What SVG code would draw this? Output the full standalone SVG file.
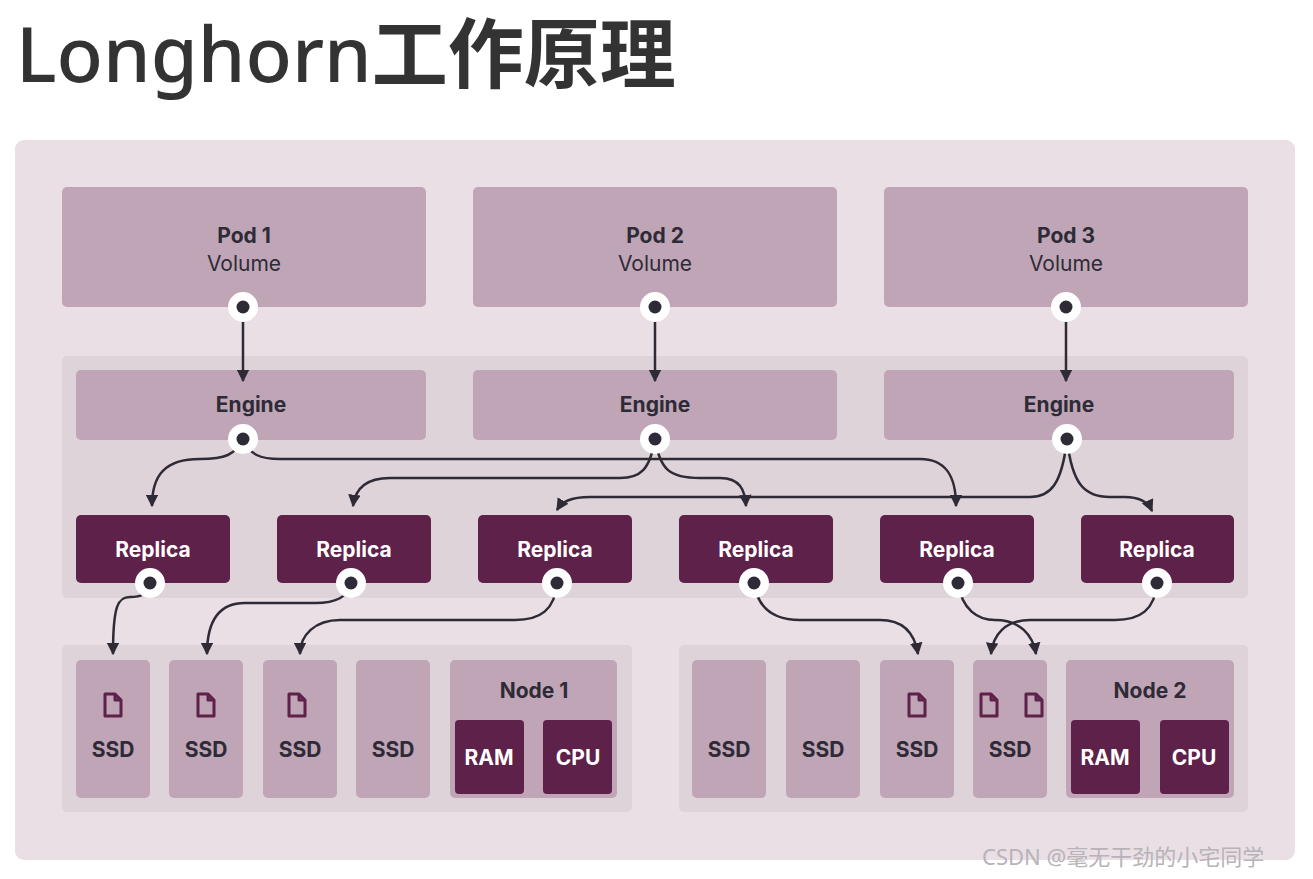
<svg xmlns="http://www.w3.org/2000/svg" width="1313" height="879" viewBox="0 0 1313 879">
<style>
.pod{fill:#bfa5b6}
.band{fill:#dfd3da}
.rep{fill:#5e2149}
.t{font-family:Inter,"Noto Sans",sans-serif;font-weight:700;font-size:21px;fill:#2e2b36;text-anchor:middle}
.tw{font-family:Inter,"Noto Sans",sans-serif;font-weight:700;font-size:21px;fill:#fff;text-anchor:middle}
.tl{font-family:Inter,"Noto Sans",sans-serif;font-weight:400;font-size:21px;fill:#2e2b36;text-anchor:middle}
.c{fill:none;stroke:#2e2b36;stroke-width:2.5}
.file{fill:none;stroke:#5e2149;stroke-width:3;stroke-linejoin:round}
</style>
<defs>
<marker id="ah" viewBox="0 0 10 10" refX="9" refY="5" markerWidth="5" markerHeight="5" orient="auto"><path d="M0,0L10,5L0,10z" fill="#2e2b36"/></marker>
<g id="sock"><circle r="15" fill="#fff"/><circle r="6.5" fill="#2e2b36"/></g>
<path id="doc" class="file" d="M-8,-11H2L8,-5V11H-8Z M2,-11V-5H8"/>
</defs>
<rect width="1313" height="879" fill="#fff"/>
<text x="16" y="82" font-family="'Noto Sans','Noto Sans CJK SC',sans-serif" font-size="76" font-weight="500" fill="#333">Longhorn<tspan font-weight="700">工作原理</tspan></text>
<rect x="15" y="140" width="1280" height="720" rx="9" fill="#e9dfe5"/>
<rect class="band" x="62" y="356" width="1186" height="242" rx="5"/>
<rect class="band" x="62" y="645" width="570" height="167" rx="5"/>
<rect class="band" x="679" y="645" width="569" height="167" rx="5"/>
<g id="pod1"><rect class="pod" x="62" y="187" width="364" height="120" rx="5"/><text class="t" x="244" y="243">Pod 1</text><text class="tl" x="244" y="271">Volume</text></g>
<g id="pod2"><rect class="pod" x="473" y="187" width="364" height="120" rx="5"/><text class="t" x="655" y="243">Pod 2</text><text class="tl" x="655" y="271">Volume</text></g>
<g id="pod3"><rect class="pod" x="884" y="187" width="364" height="120" rx="5"/><text class="t" x="1066" y="243">Pod 3</text><text class="tl" x="1066" y="271">Volume</text></g>
<g id="engine1"><rect class="pod" x="76" y="370" width="350" height="70" rx="5"/><text class="t" x="251" y="412">Engine</text></g>
<g id="engine2"><rect class="pod" x="473" y="370" width="364" height="70" rx="5"/><text class="t" x="655" y="412">Engine</text></g>
<g id="engine3"><rect class="pod" x="884" y="370" width="350" height="70" rx="5"/><text class="t" x="1059" y="412">Engine</text></g>
<g id="replica1"><rect class="rep" x="76" y="515" width="154" height="68" rx="5"/><text class="tw" x="153" y="557">Replica</text></g>
<g id="replica2"><rect class="rep" x="277" y="515" width="154" height="68" rx="5"/><text class="tw" x="354" y="557">Replica</text></g>
<g id="replica3"><rect class="rep" x="478" y="515" width="154" height="68" rx="5"/><text class="tw" x="555" y="557">Replica</text></g>
<g id="replica4"><rect class="rep" x="679" y="515" width="154" height="68" rx="5"/><text class="tw" x="756" y="557">Replica</text></g>
<g id="replica5"><rect class="rep" x="880" y="515" width="154" height="68" rx="5"/><text class="tw" x="957" y="557">Replica</text></g>
<g id="replica6"><rect class="rep" x="1081" y="515" width="153" height="68" rx="5"/><text class="tw" x="1157" y="557">Replica</text></g>
<g id="ssd1"><rect class="pod" x="76" y="660" width="74" height="138" rx="5"/><use href="#doc" x="113" y="705"/><text class="t" x="113" y="757">SSD</text></g>
<g id="ssd2"><rect class="pod" x="169" y="660" width="74" height="138" rx="5"/><use href="#doc" x="206" y="705"/><text class="t" x="206" y="757">SSD</text></g>
<g id="ssd3"><rect class="pod" x="263" y="660" width="74" height="138" rx="5"/><use href="#doc" x="297" y="705"/><text class="t" x="300" y="757">SSD</text></g>
<g id="ssd4"><rect class="pod" x="356" y="660" width="74" height="138" rx="5"/><text class="t" x="393" y="757">SSD</text></g>
<g id="node1"><rect class="pod" x="450" y="660" width="167" height="138" rx="5"/><text class="t" x="534" y="698">Node 1</text>
<rect class="rep" x="455" y="720" width="69" height="74" rx="4"/><text class="tw" x="489" y="765">RAM</text>
<rect class="rep" x="543" y="720" width="69" height="74" rx="4"/><text class="tw" x="578" y="765">CPU</text></g>
<g id="ssd5"><rect class="pod" x="692" y="660" width="74" height="138" rx="5"/><text class="t" x="729" y="757">SSD</text></g>
<g id="ssd6"><rect class="pod" x="786" y="660" width="74" height="138" rx="5"/><text class="t" x="823" y="757">SSD</text></g>
<g id="ssd7"><rect class="pod" x="880" y="660" width="74" height="138" rx="5"/><use href="#doc" x="917" y="705"/><text class="t" x="917" y="757">SSD</text></g>
<g id="ssd8"><rect class="pod" x="973" y="660" width="74" height="138" rx="5"/><use href="#doc" x="989" y="705"/><use href="#doc" x="1034" y="705"/><text class="t" x="1010" y="757">SSD</text></g>
<g id="node2"><rect class="pod" x="1066" y="660" width="168" height="138" rx="5"/><text class="t" x="1150" y="698">Node 2</text>
<rect class="rep" x="1071" y="720" width="69" height="74" rx="4"/><text class="tw" x="1105" y="765">RAM</text>
<rect class="rep" x="1160" y="720" width="69" height="74" rx="4"/><text class="tw" x="1194" y="765">CPU</text></g>
<g id="connectors">
<path class="c" marker-end="url(#ah)" d="M243,307V381"/>
<path class="c" marker-end="url(#ah)" d="M655,307V381"/>
<path class="c" marker-end="url(#ah)" d="M1066,307V381"/>
<path class="c" marker-end="url(#ah)" d="M243,439C235,455 225,459 200,459C165,459 152,475 152,506"/>
<path class="c" marker-end="url(#ah)" d="M243,439C250,455 260,459 280,459H920C945,459 956,475 956,506"/>
<path class="c" marker-end="url(#ah)" d="M655,439C650,470 640,478 620,478H390C365,478 355,490 353,506"/>
<path class="c" marker-end="url(#ah)" d="M655,439C660,470 670,478 700,478H720C740,478 745,490 746,506"/>
<path class="c" marker-end="url(#ah)" d="M1067,439C1062,485 1050,497 1030,497H590C570,497 562,502 557,510"/>
<path class="c" marker-end="url(#ah)" d="M1067,439C1072,485 1085,497 1110,497H1125C1140,497 1148,502 1152,511"/>
<path class="c" marker-end="url(#ah)" d="M150,583C148,595 140,597 130,597C118,597 113,605 113,654"/>
<path class="c" marker-end="url(#ah)" d="M351,583C348,598 335,603 315,603H245C220,603 207,620 207,654"/>
<path class="c" marker-end="url(#ah)" d="M557,583C555,610 540,620 515,620H340C315,620 300,635 300,654"/>
<path class="c" marker-end="url(#ah)" d="M754,583C758,610 775,620 800,620H880C905,620 915,635 918,654"/>
<path class="c" marker-end="url(#ah)" d="M958,583C962,610 978,620 995,620C1020,620 1033,635 1036,654"/>
<path class="c" marker-end="url(#ah)" d="M1157,583C1155,610 1140,620 1115,620H1030C1005,620 993,635 991,654"/>
</g>
<g id="sockets">
<use href="#sock" x="243" y="307"/><use href="#sock" x="655" y="307"/><use href="#sock" x="1066" y="307"/>
<use href="#sock" x="243" y="439"/><use href="#sock" x="655" y="439"/><use href="#sock" x="1067" y="439"/>
<use href="#sock" x="150" y="583"/><use href="#sock" x="351" y="583"/><use href="#sock" x="557" y="583"/>
<use href="#sock" x="754" y="583"/><use href="#sock" x="958" y="583"/><use href="#sock" x="1157" y="583"/>
</g>
<text x="982" y="865" font-family="'Noto Sans','Noto Sans CJK SC',sans-serif" font-size="22" fill="#b8b3b8">CSDN @毫无干劲的小宅同学</text>
</svg>
